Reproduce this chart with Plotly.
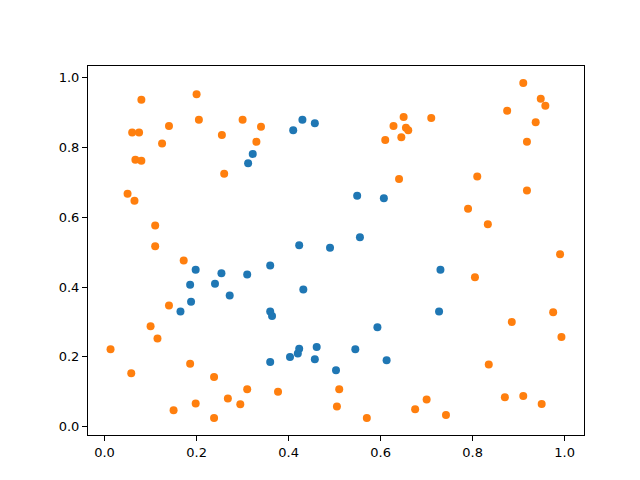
import plotly.graph_objects as go

blue_x = [0.41, 0.43, 0.457, 0.312, 0.322, 0.549, 0.607, 0.423, 0.49, 0.555, 0.198, 0.186, 0.24, 0.254,
          0.31, 0.36, 0.272, 0.165, 0.188, 0.36, 0.364, 0.432, 0.73, 0.727, 0.593, 0.545, 0.613, 0.503,
          0.461, 0.423, 0.42, 0.403, 0.457, 0.36]
blue_y = [0.85, 0.88, 0.87, 0.755, 0.782, 0.662, 0.655, 0.52, 0.513, 0.543, 0.45, 0.407, 0.41, 0.44,
          0.436, 0.462, 0.376, 0.33, 0.358, 0.33, 0.317, 0.393, 0.45, 0.33, 0.285, 0.222, 0.19, 0.162,
          0.228, 0.223, 0.21, 0.2, 0.193, 0.185]

orange_x = [0.2, 0.08, 0.06, 0.075, 0.14, 0.125, 0.205, 0.3, 0.34, 0.33, 0.255, 0.067, 0.08, 0.26,
            0.05, 0.065, 0.11, 0.11, 0.172, 0.14, 0.1, 0.115, 0.013, 0.058, 0.186, 0.238, 0.198, 0.15,
            0.238, 0.268, 0.295, 0.31, 0.377, 0.51, 0.505, 0.57, 0.675, 0.7, 0.742, 0.628, 0.65, 0.655,
            0.66, 0.645, 0.61, 0.64, 0.71, 0.81, 0.79, 0.833, 0.805, 0.885, 0.835, 0.87, 0.91, 0.95,
            0.875, 0.91, 0.948, 0.958, 0.937, 0.918, 0.918, 0.99, 0.975, 0.993]
orange_y = [0.953, 0.937, 0.843, 0.843, 0.862, 0.812, 0.88, 0.88, 0.86, 0.817, 0.836, 0.765, 0.762, 0.725,
            0.668, 0.648, 0.577, 0.517, 0.476, 0.347, 0.288, 0.253, 0.222, 0.153, 0.18, 0.142, 0.066, 0.047,
            0.025, 0.081, 0.064, 0.107, 0.1, 0.107, 0.058, 0.025, 0.05, 0.078, 0.033, 0.862, 0.888, 0.857,
            0.85, 0.83, 0.822, 0.71, 0.885, 0.717, 0.625, 0.58, 0.428, 0.3, 0.178, 0.084, 0.088, 0.065,
            0.906, 0.985, 0.94, 0.92, 0.873, 0.817, 0.677, 0.494, 0.328, 0.257]

fig = go.Figure()
fig.add_trace(go.Scatter(x=blue_x, y=blue_y, mode="markers", marker=dict(color="#1f77b4", size=8)))
fig.add_trace(go.Scatter(x=orange_x, y=orange_y, mode="markers", marker=dict(color="#ff7f0e", size=8)))

axis = dict(showgrid=False, zeroline=False, showline=True, linecolor="black", linewidth=1, mirror=True,
            ticks="outside", ticklen=5, tickcolor="black", dtick=0.2, tick0=0, tickformat=".1f",
            automargin=False,
            tickfont=dict(family="DejaVu Sans", size=13, color="black"))
fig.update_xaxes(axis, range=[-0.036, 1.042])
fig.update_yaxes(axis, range=[-0.024, 1.034])
fig.update_layout(width=640, height=480, showlegend=False, plot_bgcolor="white", paper_bgcolor="white",
                  margin=dict(l=80, r=64, t=58, b=53))
fig.write_html("out.html")
